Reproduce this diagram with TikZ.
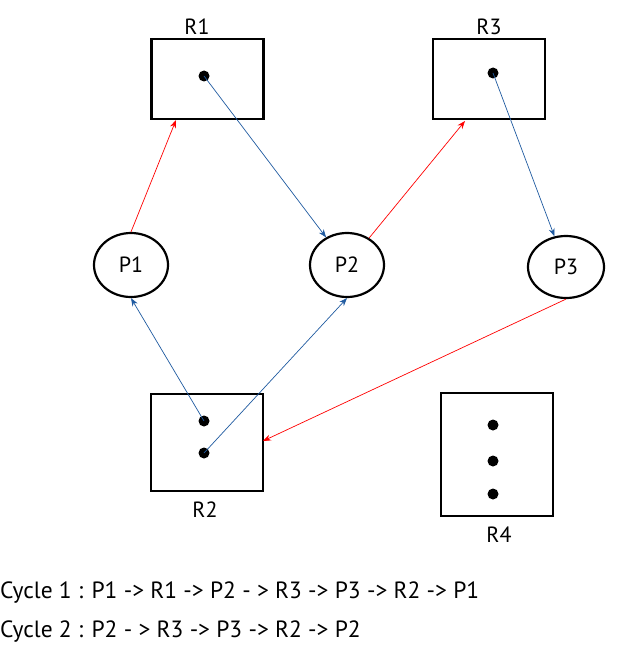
\documentclass[tikz,border=0pt]{standalone}
\usepackage{fontspec}
\setmainfont{PT Sans}
\usetikzlibrary{arrows.meta,shapes.geometric}
\begin{document}
\begin{tikzpicture}[x=1pt,y=-1pt,
 box/.style={draw,line width=2.2pt,minimum width=112pt,inner sep=0pt},
 proc/.style={draw,ellipse,line width=2.2pt,minimum width=74pt,minimum height=64pt,inner sep=0pt,font=\fontsize{22}{26}\selectfont},
 dot/.style={circle,fill,inner sep=0pt,minimum size=11pt},
 lbl/.style={font=\fontsize{22}{26}\selectfont,inner sep=0pt},
 cyc/.style={font=\fontsize{23.5}{28}\selectfont,inner sep=0pt,anchor=west},
 req/.style={draw=red,-{Stealth[length=8pt,width=6pt]},line width=0.7pt},
 asg/.style={draw={rgb,255:red,31;green,90;blue,160},-{Stealth[length=8pt,width=6pt]},line width=0.7pt}]
\useasboundingbox (0,0) rectangle (621,658);
\node[box,minimum height=80pt] (R1) at (207.5,79) {};
\node[box,minimum height=80pt] (R3) at (489,79) {};
\node[box,minimum height=97pt] (R2) at (207,442.5) {};
\node[box,minimum height=123pt] (R4) at (497,454.5) {};
\node[lbl] (lR1) at (197,27) {R1};
\node[lbl] (lR3) at (489,27) {R3};
\node[lbl] (lR2) at (205,510) {R2};
\node[lbl] (lR4) at (499,535) {R4};
\node[dot] (d1) at (204,76) {};
\node[dot] (d3) at (493,73) {};
\node[dot] (d2a) at (204,421) {};
\node[dot] (d2b) at (204,453) {};
\node[dot] (d4a) at (493,425) {};
\node[dot] (d4b) at (493,461) {};
\node[dot] (d4c) at (493,494) {};
\node[proc] (P1) at (131,265) {P1};
\node[proc] (P2) at (347,265) {P2};
\node[proc,minimum width=76pt,minimum height=62pt] (P3) at (566,267) {P3};
\coordinate (r1in) at (176,120);
\coordinate (r3in) at (465,121);
\coordinate (r2in) at (263,441);
\draw[req] (P1.north) -- (r1in);
\draw[asg] (d1.center) -- (P2);
\draw[req] (P2) -- (r3in);
\draw[asg] (d3.center) -- (P3);
\draw[req] (P3.south) -- (r2in);
\draw[asg] (d2a.center) -- (P1.south);
\draw[asg] (d2b.center) -- (P2.south);
\node[cyc] (c1) at (0,593) {Cycle 1 : P1 -> R1 -> P2 - > R3 -> P3 -> R2 -> P1};
\node[cyc] (c2) at (0,632) {Cycle 2 : P2 - > R3 -> P3 -> R2 -> P2};
\end{tikzpicture}
\end{document}
